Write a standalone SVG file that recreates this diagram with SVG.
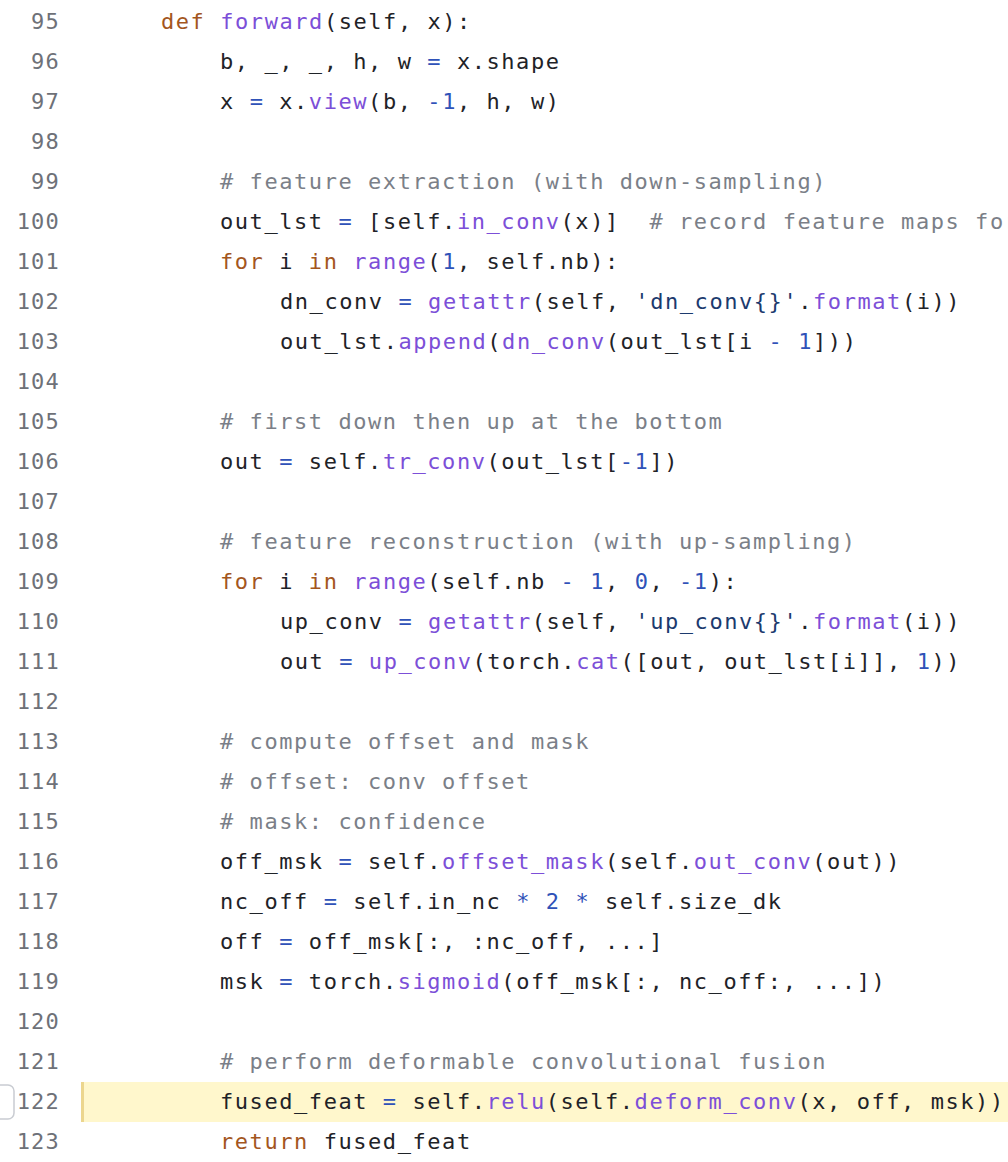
<svg xmlns="http://www.w3.org/2000/svg" width="1008" height="1162" viewBox="0 0 1008 1162">
<style>
text{font-family:"DejaVu Sans Mono","Liberation Mono",monospace;font-size:22px;letter-spacing:1.56px;fill:#1f2328;white-space:pre}
.n{fill:#6e7178;letter-spacing:1.2px}
.k{fill:#a3561e}.f{fill:#7c4fd8}.o{fill:#2f52b8}.c{fill:#7b7f88}.s{fill:#1c3a6e}
</style>
<rect width="1008" height="1162" fill="#ffffff"/>
<g id="highlight">
<rect x="81" y="1082" width="927" height="40" fill="#fff7cc"/>
<rect x="81" y="1082" width="3" height="40" fill="#ecd68e"/>
<rect x="-6" y="1085" width="20" height="34" rx="6" fill="none" stroke="#c9ccd2" stroke-width="1.5"/>
</g>
<g id="linenumbers" text-anchor="end">
<text class="n" x="60" y="29">95</text>
<text class="n" x="60" y="69">96</text>
<text class="n" x="60" y="109">97</text>
<text class="n" x="60" y="149">98</text>
<text class="n" x="60" y="189">99</text>
<text class="n" x="60" y="229">100</text>
<text class="n" x="60" y="269">101</text>
<text class="n" x="60" y="309">102</text>
<text class="n" x="60" y="349">103</text>
<text class="n" x="60" y="389">104</text>
<text class="n" x="60" y="429">105</text>
<text class="n" x="60" y="469">106</text>
<text class="n" x="60" y="509">107</text>
<text class="n" x="60" y="549">108</text>
<text class="n" x="60" y="589">109</text>
<text class="n" x="60" y="629">110</text>
<text class="n" x="60" y="669">111</text>
<text class="n" x="60" y="709">112</text>
<text class="n" x="60" y="749">113</text>
<text class="n" x="60" y="789">114</text>
<text class="n" x="60" y="829">115</text>
<text class="n" x="60" y="869">116</text>
<text class="n" x="60" y="909">117</text>
<text class="n" x="60" y="949">118</text>
<text class="n" x="60" y="989">119</text>
<text class="n" x="60" y="1029">120</text>
<text class="n" x="60" y="1069">121</text>
<text class="n" x="60" y="1109">122</text>
<text class="n" x="60" y="1149">123</text>
</g>
<g id="code">
<text x="161" y="29"><tspan class="k">def</tspan> <tspan class="f">forward</tspan>(self, x):</text>
<text x="220" y="69">b, _, _, h, w <tspan class="o">=</tspan> x.shape</text>
<text x="220" y="109">x <tspan class="o">=</tspan> x.<tspan class="f">view</tspan>(b, <tspan class="o">-1</tspan>, h, w)</text>
<text x="220" y="189" class="c"># feature extraction (with down-sampling)</text>
<text x="220" y="229">out_lst <tspan class="o">=</tspan> [self.<tspan class="f">in_conv</tspan>(x)]  <tspan class="c"># record feature maps for</tspan></text>
<text x="220" y="269"><tspan class="k">for</tspan> i <tspan class="k">in</tspan> <tspan class="f">range</tspan>(<tspan class="o">1</tspan>, self.nb):</text>
<text x="280" y="309">dn_conv <tspan class="o">=</tspan> <tspan class="f">getattr</tspan>(self, <tspan class="s">'dn_conv{}'</tspan>.<tspan class="f">format</tspan>(i))</text>
<text x="280" y="349">out_lst.<tspan class="f">append</tspan>(<tspan class="f">dn_conv</tspan>(out_lst[i <tspan class="o">-</tspan> <tspan class="o">1</tspan>]))</text>
<text x="220" y="429" class="c"># first down then up at the bottom</text>
<text x="220" y="469">out <tspan class="o">=</tspan> self.<tspan class="f">tr_conv</tspan>(out_lst[<tspan class="o">-1</tspan>])</text>
<text x="220" y="549" class="c"># feature reconstruction (with up-sampling)</text>
<text x="220" y="589"><tspan class="k">for</tspan> i <tspan class="k">in</tspan> <tspan class="f">range</tspan>(self.nb <tspan class="o">-</tspan> <tspan class="o">1</tspan>, <tspan class="o">0</tspan>, <tspan class="o">-1</tspan>):</text>
<text x="280" y="629">up_conv <tspan class="o">=</tspan> <tspan class="f">getattr</tspan>(self, <tspan class="s">'up_conv{}'</tspan>.<tspan class="f">format</tspan>(i))</text>
<text x="280" y="669">out <tspan class="o">=</tspan> <tspan class="f">up_conv</tspan>(torch.<tspan class="f">cat</tspan>([out, out_lst[i]], <tspan class="o">1</tspan>))</text>
<text x="220" y="749" class="c"># compute offset and mask</text>
<text x="220" y="789" class="c"># offset: conv offset</text>
<text x="220" y="829" class="c"># mask: confidence</text>
<text x="220" y="869">off_msk <tspan class="o">=</tspan> self.<tspan class="f">offset_mask</tspan>(self.<tspan class="f">out_conv</tspan>(out))</text>
<text x="220" y="909">nc_off <tspan class="o">=</tspan> self.in_nc <tspan class="o">*</tspan> <tspan class="o">2</tspan> <tspan class="o">*</tspan> self.size_dk</text>
<text x="220" y="949">off <tspan class="o">=</tspan> off_msk[:, :nc_off, ...]</text>
<text x="220" y="989">msk <tspan class="o">=</tspan> torch.<tspan class="f">sigmoid</tspan>(off_msk[:, nc_off:, ...])</text>
<text x="220" y="1069" class="c"># perform deformable convolutional fusion</text>
<text x="220" y="1109">fused_feat <tspan class="o">=</tspan> self.<tspan class="f">relu</tspan>(self.<tspan class="f">deform_conv</tspan>(x, off, msk))</text>
<text x="220" y="1149"><tspan class="k">return</tspan> fused_feat</text>
</g>
</svg>
